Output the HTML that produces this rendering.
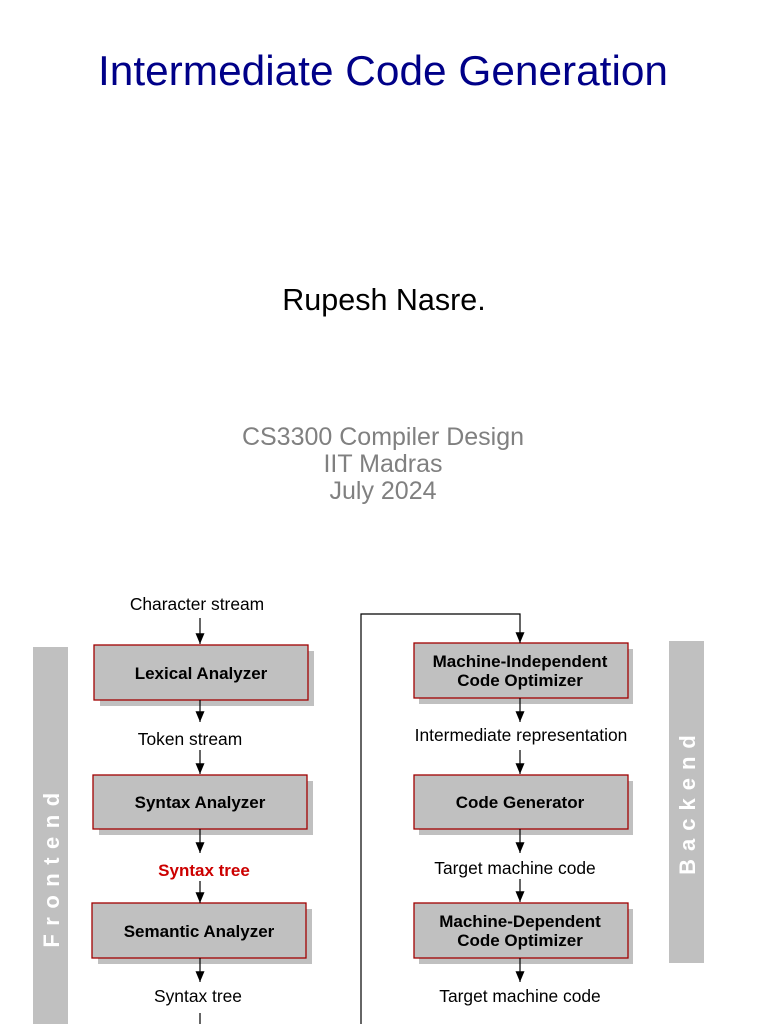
<!DOCTYPE html>
<html><head><meta charset="utf-8"><style>
html,body{margin:0;padding:0;background:#fff;}
svg{display:block;font-family:"Liberation Sans",Arial,sans-serif;}
</style></head><body>
<svg width="768" height="1024" viewBox="0 0 768 1024">
<defs>
<marker id="b" viewBox="0 0 12 10" markerWidth="12" markerHeight="9" refX="12" refY="5" orient="auto" markerUnits="userSpaceOnUse"><path d="M0,0 L12,5 L0,10 Z" fill="#000"/></marker></defs>
<text x="383" y="85" font-size="42" fill="#000088" text-anchor="middle" textLength="570" lengthAdjust="spacingAndGlyphs">Intermediate Code Generation</text>
<text x="384" y="310" font-size="30.5" fill="#000" text-anchor="middle">Rupesh Nasre.</text>
<g font-size="25" fill="#808080" text-anchor="middle">
<text x="383" y="445">CS3300 Compiler Design</text>
<text x="383" y="472">IIT Madras</text>
<text x="383" y="499">July 2024</text>
</g>
<!-- bars -->
<rect x="33" y="647" width="35" height="377" fill="#c0c0c0"/>
<text transform="translate(59,866) rotate(-90)" font-size="22" font-weight="bold" fill="#fff" text-anchor="middle" letter-spacing="8.5">Frontend</text>
<rect x="669" y="641" width="35" height="322" fill="#c0c0c0"/>
<text transform="translate(695,801) rotate(-90)" font-size="22" font-weight="bold" fill="#fff" text-anchor="middle" letter-spacing="8">Backend</text>
<!-- boxes -->
<g fill="#c0c0c0">
<rect x="100" y="651" width="214" height="55"/><rect x="99" y="781" width="214" height="54"/><rect x="98" y="909" width="214" height="55"/>
<rect x="419" y="649" width="214" height="55"/><rect x="419" y="781" width="214" height="54"/><rect x="419" y="909" width="214" height="55"/>
</g>
<g fill="#c0c0c0" stroke="#a00000" stroke-width="1.3">
<rect x="94" y="645" width="214" height="55"/><rect x="93" y="775" width="214" height="54"/><rect x="92" y="903" width="214" height="55"/>
<rect x="414" y="643" width="214" height="55"/><rect x="414" y="775" width="214" height="54"/><rect x="414" y="903" width="214" height="55"/>
</g>
<g font-size="17" font-weight="bold" fill="#000" text-anchor="middle">
<text x="201" y="679">Lexical Analyzer</text>
<text x="200" y="808">Syntax Analyzer</text>
<text x="199" y="937">Semantic Analyzer</text>
<text x="520" y="667">Machine-Independent</text>
<text x="520" y="686">Code Optimizer</text>
<text x="520" y="808">Code Generator</text>
<text x="520" y="927">Machine-Dependent</text>
<text x="520" y="946">Code Optimizer</text>
<text x="204" y="876" fill="#cc0000">Syntax tree</text>
</g>
<g font-size="17.4" fill="#000" text-anchor="middle">
<text x="197" y="610">Character stream</text>
<text x="190" y="745">Token stream</text>
<text x="198" y="1002">Syntax tree</text>
<text x="521" y="741">Intermediate representation</text>
<text x="515" y="874">Target machine code</text>
<text x="520" y="1002">Target machine code</text>
</g>
<!-- arrows -->
<g stroke="#000" stroke-width="1.2" fill="none">
<line x1="200" y1="618" x2="200" y2="644" marker-end="url(#b)"/>
<line x1="200" y1="700" x2="200" y2="722" marker-end="url(#b)"/>
<line x1="200" y1="750" x2="200" y2="774" marker-end="url(#b)"/>
<line x1="200" y1="829" x2="200" y2="853" marker-end="url(#b)"/>
<line x1="200" y1="881" x2="200" y2="903" marker-end="url(#b)"/>
<line x1="200" y1="958" x2="200" y2="982" marker-end="url(#b)"/>
<line x1="200" y1="1013" x2="200" y2="1024"/>
<polyline points="361,1024 361,614 520,614 520,643" marker-end="url(#b)"/>
<line x1="520" y1="698" x2="520" y2="722" marker-end="url(#b)"/>
<line x1="520" y1="750" x2="520" y2="774" marker-end="url(#b)"/>
<line x1="520" y1="829" x2="520" y2="853" marker-end="url(#b)"/>
<line x1="520" y1="879" x2="520" y2="902" marker-end="url(#b)"/>
<line x1="520" y1="958" x2="520" y2="982" marker-end="url(#b)"/>
</g>
</svg>
</body></html>
